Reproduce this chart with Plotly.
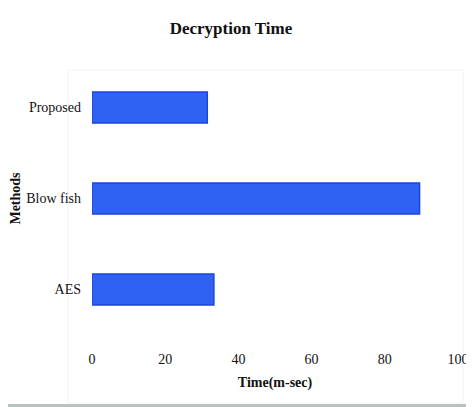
import plotly.graph_objects as go

methods = ["AES", "Blow fish", "Proposed"]
times = [33.3, 89.5, 31.5]
x_ticks = [0, 20, 40, 60, 80, 100]

W, H = 466, 399
L, R, T, B = 84, 16, 54, 72
pw, ph = W - L - R, H - T - B

def px(x):
    return (x - L) / pw

def py(y):
    return (H - B - y) / ph

fig = go.Figure()
fig.add_trace(go.Bar(
    y=methods, x=times, orientation="h", width=0.34,
    marker=dict(color="#2f62f2", line=dict(color="#1c46d6", width=1.5)),
))
fig.update_layout(
    width=W, height=H,
    margin=dict(l=L, r=R, t=T, b=B),
    paper_bgcolor="white", plot_bgcolor="white",
    title=dict(text="<b>Decryption Time</b>", x=223 / W, xanchor="center", y=1 - 20 / H, yanchor="middle",
               font=dict(family="Liberation Serif", size=17, color="#111")),
    font=dict(family="Liberation Serif", size=14, color="#111"),
    showlegend=False,
    xaxis=dict(range=[0, 100], tickvals=x_ticks, showgrid=False, zeroline=False, showline=False,
               automargin=False, ticklabelstandoff=14, tickfont=dict(size=14),
               title=dict(text="<b>Time(m-sec)</b>", standoff=11, font=dict(size=14))),
    yaxis=dict(range=[-0.5, 2.5], showgrid=False, zeroline=False, showline=False,
               automargin=False, ticklabelstandoff=10, tickfont=dict(size=14),
               title=dict(text="<b>Methods</b>", standoff=15, font=dict(size=14))),
    shapes=[
        dict(type="rect", xref="paper", yref="paper", x0=px(60), x1=px(455), y0=py(395), y1=py(62),
             line=dict(color="#f2f2f2", width=1), layer="below"),
        dict(type="rect", xref="paper", yref="paper", x0=px(461), x1=px(464.5), y0=py(H), y1=py(0),
             line=dict(width=0), fillcolor="#b9c1c1", layer="below"),
        dict(type="rect", xref="paper", yref="paper", x0=px(0), x1=px(466), y0=py(H), y1=py(396),
             line=dict(width=0), fillcolor="#b9c1c1", layer="below"),
    ],
)
fig.write_html("out.html")
